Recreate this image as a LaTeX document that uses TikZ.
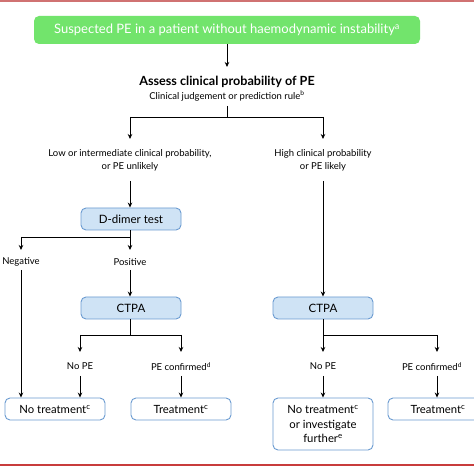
\documentclass[tikz,border=0pt]{standalone}
\usepackage{fontspec}
\setmainfont{Lato}
\usetikzlibrary{arrows.meta}
\definecolor{boxgreen}{HTML}{72E46C}
\definecolor{boxblue}{HTML}{CFE3F5}
\definecolor{bordblue}{HTML}{6B9BD1}
\definecolor{topred}{HTML}{D07272}
\definecolor{botred}{HTML}{C83C3C}
\begin{document}
\begin{tikzpicture}[x=1pt,y=1pt,
  line width=0.8pt,
  arr/.style={-{Stealth[length=5pt,width=4.5pt]}},
  greenbox/.style={fill=boxgreen, rounded corners=5pt, text=white, font=\fontsize{13}{15}\selectfont, minimum width=386, minimum height=28, inner sep=0pt},
  testbox/.style={draw=bordblue, fill=boxblue, rounded corners=5pt, line width=0.9pt, font=\fontsize{11.5}{14.5}\selectfont, minimum width=100, minimum height=22, inner sep=0pt},
  endbox/.style={draw=bordblue, fill=white, rounded corners=5pt, line width=0.9pt, font=\fontsize{11.3}{14.5}\selectfont, minimum width=100, minimum height=22, inner sep=0pt, align=center},
  lab/.style={font=\fontsize{9.5}{13}\selectfont, align=center, inner sep=0pt}
]
\useasboundingbox (0,0) rectangle (474,474);
\fill[white] (0,0) rectangle (474,474);
\fill[topred] (0,471.5) rectangle (474,474);
\draw[botred, line width=1.2pt] (0,9) -- (474,9);

\node[greenbox] (start) at (227,444) {Suspected PE in a patient without haemodynamic instability\textsuperscript{a}};
\node[inner sep=0pt, font=\bfseries\fontsize{12.6}{15}\selectfont] (assess) at (227,392) {Assess clinical probability of PE};
\node[lab] (judge) at (227,378) {Clinical judgement or prediction rule\textsuperscript{b}};

\coordinate (aIn) at (227,407);
\coordinate (jOut) at (227,368);
\coordinate (split1) at (227,357);
\coordinate (sL) at (130,357);
\coordinate (sR) at (323,357);
\coordinate (lowIn) at (130,335);
\coordinate (highIn) at (323,335);

\node[lab] (low) at (130,313.5) {Low or intermediate clinical probability,\\or PE unlikely};
\node[lab] (high) at (323,313.5) {High clinical probability\\or PE likely};

\node[testbox] (dd) at (131,255) {D-dimer test};
\coordinate (lowOut) at (130,293);
\coordinate (highOut) at (323,293);

\coordinate (dsplit) at (130,237);
\coordinate (dL) at (21,237);
\coordinate (negIn) at (21,224);
\coordinate (posIn) at (130,224);
\node[lab] (neg) at (21,212) {Negative};
\node[lab] (pos) at (130,212) {Positive};
\coordinate (negOut) at (21,204);
\coordinate (posOut) at (130,204);

\node[testbox] (ctl) at (131,166) {CTPA};
\node[testbox] (ctr) at (323,166) {CTPA};

\coordinate (cl) at (130,139);
\coordinate (clL) at (80,139);
\coordinate (clR) at (181,139);
\coordinate (cr) at (323,139);
\coordinate (crR) at (437,139);
\coordinate (clLIn) at (80,122);
\coordinate (clRIn) at (181,122);
\coordinate (crLIn) at (323,122);
\coordinate (crRIn) at (437,122);

\node[lab] (nopeL) at (80,107.5) {No PE};
\node[lab] (pecL) at (181,107.5) {PE confirmed\textsuperscript{d}};
\node[lab] (nopeR) at (323,107.5) {No PE};
\node[lab] (pecR) at (432,107.5) {PE confirmed\textsuperscript{d}};

\coordinate (nopeLOut) at (80,98);
\coordinate (pecLOut) at (181,98);
\coordinate (nopeROut) at (323,98);
\coordinate (pecROut) at (437,98);

\node[endbox] (ntL) at (55,65) {No treatment\textsuperscript{c}};
\node[endbox] (tL) at (181,65) {Treatment\textsuperscript{c}};
\node[endbox, minimum height=52] (ntR) at (323,50) {No treatment\textsuperscript{c}\\or investigate\\further\textsuperscript{e}};
\node[endbox] (tR) at (438,65) {Treatment\textsuperscript{c}};

\draw[arr] (start.south) -- (aIn);
\draw (jOut) -- (split1);
\draw[arr] (sL) -- (lowIn);
\draw[arr] (sR) -- (highIn);
\draw (sL) -- (sR);
\draw[arr] (lowOut) -- (dd.north -| lowOut);
\draw (dd.south -| dsplit) -- (dsplit) -- (dL);
\draw[arr] (dL) -- (negIn);
\draw[arr] (dsplit) -- (posIn);
\draw[arr] (negOut) -- (ntL.north -| negOut);
\draw[arr] (posOut) -- (ctl.north -| posOut);
\draw[arr] (highOut) -- (ctr.north);
\draw (ctl.south -| cl) -- (cl);
\draw (clL) -- (clR);
\draw[arr] (clL) -- (clLIn);
\draw[arr] (clR) -- (clRIn);
\draw (ctr.south) -- (cr) -- (crR);
\draw[arr] (cr) -- (crLIn);
\draw[arr] (crR) -- (crRIn);
\draw[arr] (nopeLOut) -- (ntL.north -| nopeLOut);
\draw[arr] (pecLOut) -- (tL.north);
\draw[arr] (nopeROut) -- (ntR.north);
\draw[arr] (pecROut) -- (tR.north -| pecROut);
\end{tikzpicture}
\end{document}
